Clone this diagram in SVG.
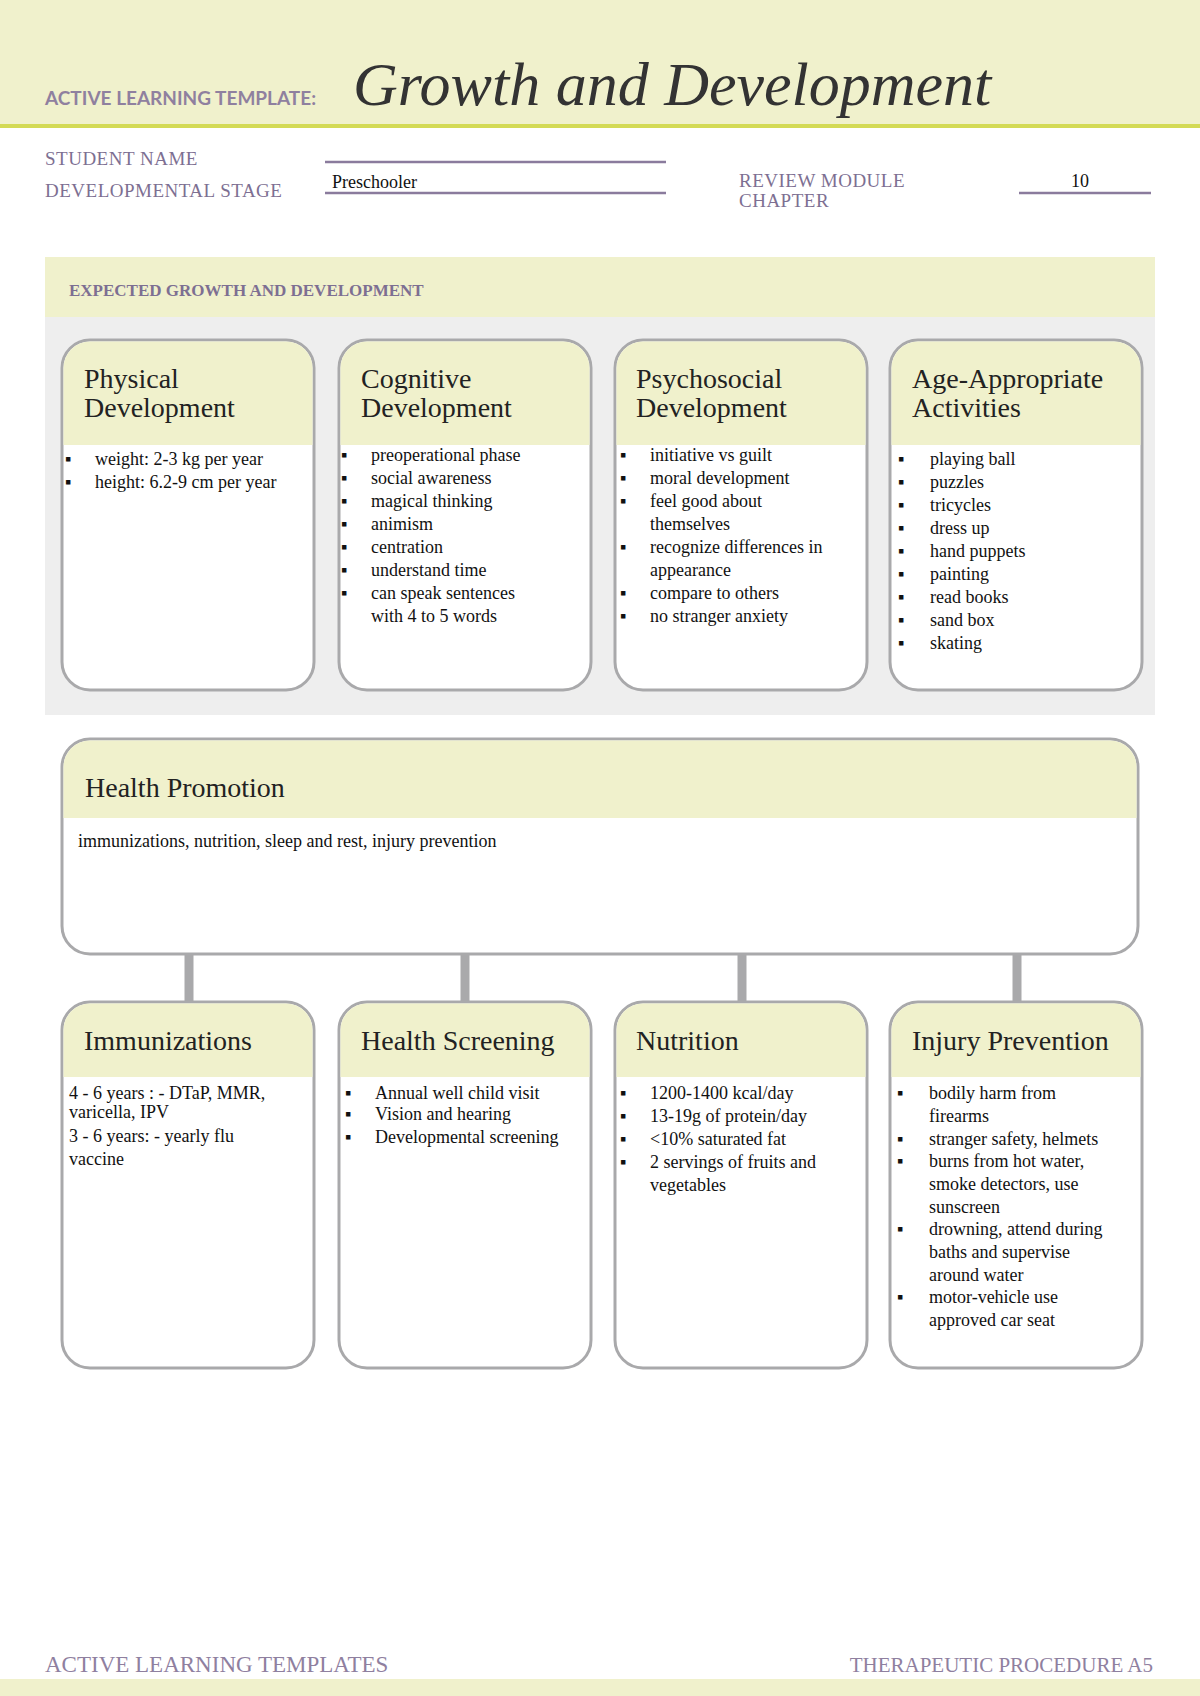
<svg xmlns="http://www.w3.org/2000/svg" width="1200" height="1696" viewBox="0 0 1200 1696">
<style>
.lbl{font-family:"Liberation Serif",serif;font-size:19px;fill:#7d6f92;letter-spacing:0.5px}
.box{fill:#fff;stroke:#a9a9ab;stroke-width:3}
.hd{fill:#f0f1cc}
.ttl{font-family:"Liberation Serif",serif;font-size:28px;fill:#222}
.li{font-family:"Liberation Serif",serif;font-size:18px;fill:#111}
.conn{stroke:#a9a9ab;stroke-width:9}
</style>
<rect x="0" y="0" width="1200" height="125" fill="#f0f1cc"/>
<rect x="0" y="124" width="1200" height="4" fill="#d3da55"/>
<text x="45" y="105" font-family="Lato,sans-serif" font-size="19" font-weight="bold" fill="#8f809f">ACTIVE LEARNING TEMPLATE:</text>
<text x="353" y="105" font-family="Liberation Serif,serif" font-style="italic" font-size="62" fill="#333">Growth and Development</text>
<text class="lbl" x="45" y="165">STUDENT NAME</text>
<text class="lbl" x="45" y="197">DEVELOPMENTAL STAGE</text>
<line x1="325" y1="162" x2="666" y2="162" stroke="#8a7b9d" stroke-width="2.5"/>
<line x1="325" y1="193" x2="666" y2="193" stroke="#8a7b9d" stroke-width="2.5"/>
<text class="li" x="332" y="188">Preschooler</text>
<text class="lbl" x="739" y="187">REVIEW MODULE</text>
<text class="lbl" x="739" y="207">CHAPTER</text>
<line x1="1019" y1="193" x2="1151" y2="193" stroke="#8a7b9d" stroke-width="2.5"/>
<text class="li" x="1071" y="187">10</text>
<rect x="45" y="257" width="1110" height="60" fill="#f0f1cc"/>
<rect x="45" y="317" width="1110" height="398" fill="#eeeeee"/>
<text x="69" y="296" font-family="Liberation Serif,serif" font-size="17" font-weight="bold" fill="#7d6f92">EXPECTED GROWTH AND DEVELOPMENT</text>

<defs>
<clipPath id="c1"><rect x="62" y="340" width="252" height="350" rx="28"/></clipPath>
</defs>

<g id="physical">
<rect class="box" x="62" y="340" width="252" height="350" rx="28"/>
<path class="hd" d="M90,341.5 H286 A26.5,26.5 0 0 1 312.5,368 V445 H63.5 V368 A26.5,26.5 0 0 1 90,341.5 Z"/>
<text class="ttl" x="84" y="388">Physical</text><text class="ttl" x="84" y="417">Development</text>
<g class="li"><text x="65" y="465">▪</text><text x="95" y="465">weight: 2-3 kg per year</text>
<text x="65" y="488">▪</text><text x="95" y="488">height: 6.2-9 cm per year</text></g>
</g>
<g id="cognitive">
<rect class="box" x="339" y="340" width="252" height="350" rx="28"/>
<path class="hd" d="M367,341.5 H563 A26.5,26.5 0 0 1 589.5,368 V445 H340.5 V368 A26.5,26.5 0 0 1 367,341.5 Z"/>
<text class="ttl" x="361" y="388">Cognitive</text><text class="ttl" x="361" y="417">Development</text>
<g class="li"><text x="341" y="461">▪</text><text x="371" y="461">preoperational phase</text>
<text x="341" y="484">▪</text><text x="371" y="484">social awareness</text>
<text x="341" y="507">▪</text><text x="371" y="507">magical thinking</text>
<text x="341" y="530">▪</text><text x="371" y="530">animism</text>
<text x="341" y="553">▪</text><text x="371" y="553">centration</text>
<text x="341" y="576">▪</text><text x="371" y="576">understand time</text>
<text x="341" y="599">▪</text><text x="371" y="599">can speak sentences</text>
<text x="371" y="622">with 4 to 5 words</text></g>
</g>
<g id="psychosocial">
<rect class="box" x="615" y="340" width="252" height="350" rx="28"/>
<path class="hd" d="M643,341.5 H839 A26.5,26.5 0 0 1 865.5,368 V445 H616.5 V368 A26.5,26.5 0 0 1 643,341.5 Z"/>
<text class="ttl" x="636" y="388">Psychosocial</text><text class="ttl" x="636" y="417">Development</text>
<g class="li"><text x="620" y="461">▪</text><text x="650" y="461">initiative vs guilt</text>
<text x="620" y="484">▪</text><text x="650" y="484">moral development</text>
<text x="620" y="507">▪</text><text x="650" y="507">feel good about</text>
<text x="650" y="530">themselves</text>
<text x="620" y="553">▪</text><text x="650" y="553">recognize differences in</text>
<text x="650" y="576">appearance</text>
<text x="620" y="599">▪</text><text x="650" y="599">compare to others</text>
<text x="620" y="622">▪</text><text x="650" y="622">no stranger anxiety</text></g>
</g>
<g id="activities">
<rect class="box" x="890" y="340" width="252" height="350" rx="28"/>
<path class="hd" d="M918,341.5 H1114 A26.5,26.5 0 0 1 1140.5,368 V445 H891.5 V368 A26.5,26.5 0 0 1 918,341.5 Z"/>
<text class="ttl" x="912" y="388">Age-Appropriate</text><text class="ttl" x="912" y="417">Activities</text>
<g class="li"><text x="898" y="465">▪</text><text x="930" y="465">playing ball</text>
<text x="898" y="488">▪</text><text x="930" y="488">puzzles</text>
<text x="898" y="511">▪</text><text x="930" y="511">tricycles</text>
<text x="898" y="534">▪</text><text x="930" y="534">dress up</text>
<text x="898" y="557">▪</text><text x="930" y="557">hand puppets</text>
<text x="898" y="580">▪</text><text x="930" y="580">painting</text>
<text x="898" y="603">▪</text><text x="930" y="603">read books</text>
<text x="898" y="626">▪</text><text x="930" y="626">sand box</text>
<text x="898" y="649">▪</text><text x="930" y="649">skating</text></g>
</g>

<g id="connectors">
<line class="conn" x1="189" y1="954" x2="189" y2="1002"/>
<line class="conn" x1="465" y1="954" x2="465" y2="1002"/>
<line class="conn" x1="742" y1="954" x2="742" y2="1002"/>
<line class="conn" x1="1017" y1="954" x2="1017" y2="1002"/>
</g>

<g id="health-promotion">
<rect class="box" x="62" y="739" width="1076" height="215" rx="28"/>
<path class="hd" d="M90,740.5 H1110 A26.5,26.5 0 0 1 1136.5,767 V818 H63.5 V767 A26.5,26.5 0 0 1 90,740.5 Z"/>
<text class="ttl" x="85" y="797">Health Promotion</text>
<text class="li" x="78" y="847">immunizations, nutrition, sleep and rest, injury prevention</text>
</g>

<g id="immunizations">
<rect class="box" x="62" y="1002" width="252" height="366" rx="28"/>
<path class="hd" d="M90,1003.5 H286 A26.5,26.5 0 0 1 312.5,1030 V1077 H63.5 V1030 A26.5,26.5 0 0 1 90,1003.5 Z"/>
<text class="ttl" x="84" y="1050">Immunizations</text>
<g class="li"><text x="69" y="1099">4 - 6 years : - DTaP, MMR,</text>
<text x="69" y="1118">varicella, IPV</text>
<text x="69" y="1142">3 - 6 years:  - yearly flu</text>
<text x="69" y="1165">vaccine</text></g>
</g>
<g id="screening">
<rect class="box" x="339" y="1002" width="252" height="366" rx="28"/>
<path class="hd" d="M367,1003.5 H563 A26.5,26.5 0 0 1 589.5,1030 V1077 H340.5 V1030 A26.5,26.5 0 0 1 367,1003.5 Z"/>
<text class="ttl" x="361" y="1050">Health Screening</text>
<g class="li"><text x="345" y="1099">▪</text><text x="375" y="1099">Annual well child visit</text>
<text x="345" y="1120">▪</text><text x="375" y="1120">Vision and hearing</text>
<text x="345" y="1143">▪</text><text x="375" y="1143">Developmental screening</text></g>
</g>
<g id="nutrition">
<rect class="box" x="615" y="1002" width="252" height="366" rx="28"/>
<path class="hd" d="M643,1003.5 H839 A26.5,26.5 0 0 1 865.5,1030 V1077 H616.5 V1030 A26.5,26.5 0 0 1 643,1003.5 Z"/>
<text class="ttl" x="636" y="1050">Nutrition</text>
<g class="li"><text x="620" y="1099">▪</text><text x="650" y="1099">1200-1400 kcal/day</text>
<text x="620" y="1122">▪</text><text x="650" y="1122">13-19g of protein/day</text>
<text x="620" y="1145">▪</text><text x="650" y="1145">&lt;10% saturated fat</text>
<text x="620" y="1168">▪</text><text x="650" y="1168">2 servings of fruits and</text>
<text x="650" y="1191">vegetables</text></g>
</g>
<g id="injury">
<rect class="box" x="890" y="1002" width="252" height="366" rx="28"/>
<path class="hd" d="M918,1003.5 H1114 A26.5,26.5 0 0 1 1140.5,1030 V1077 H891.5 V1030 A26.5,26.5 0 0 1 918,1003.5 Z"/>
<text class="ttl" x="912" y="1050">Injury Prevention</text>
<g class="li"><text x="897" y="1099">▪</text><text x="929" y="1099">bodily harm from</text>
<text x="929" y="1122">firearms</text>
<text x="897" y="1145">▪</text><text x="929" y="1145">stranger safety, helmets</text>
<text x="897" y="1167">▪</text><text x="929" y="1167">burns from hot water,</text>
<text x="929" y="1190">smoke detectors, use</text>
<text x="929" y="1213">sunscreen</text>
<text x="897" y="1235">▪</text><text x="929" y="1235">drowning, attend during</text>
<text x="929" y="1258">baths and supervise</text>
<text x="929" y="1281">around water</text>
<text x="897" y="1303">▪</text><text x="929" y="1303">motor-vehicle use</text>
<text x="929" y="1326">approved car seat</text></g>
</g>

<text x="45" y="1672" font-family="Liberation Serif,serif" font-size="23" fill="#8f809f">ACTIVE LEARNING TEMPLATES</text>
<text x="1153" y="1672" text-anchor="end" font-family="Liberation Serif,serif" font-size="21" fill="#8f809f">THERAPEUTIC PROCEDURE  A5</text>
<rect x="0" y="1679" width="1200" height="17" fill="#f0f1cc"/>
</svg>
